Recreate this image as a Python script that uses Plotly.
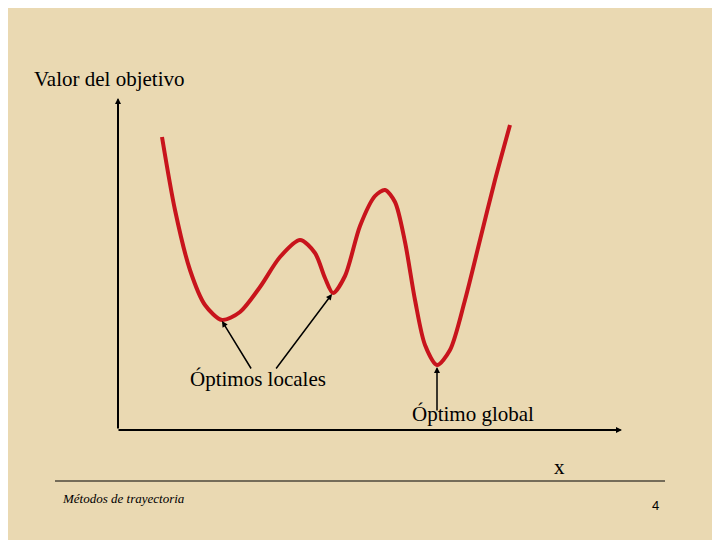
import plotly.graph_objects as go

# curve (x position, height in pixel space)
curve_x = [162, 175, 190, 205, 222, 240, 260, 280, 300, 315, 325, 333, 345, 360, 375, 385, 395, 405, 415, 425, 437, 450, 465, 480, 495, 510]
curve_y = [137, 210, 270, 305, 320, 312, 287, 257, 240, 253, 278, 293, 276, 226, 196, 190, 202, 242, 300, 345, 365, 350, 300, 240, 180, 125]

fig = go.Figure()
fig.add_trace(go.Scatter(x=curve_x, y=curve_y, mode="lines",
                         line=dict(color="#c8141c", width=4, shape="spline", smoothing=0.8),
                         hoverinfo="skip"))

font = dict(family="Liberation Serif", size=21, color="black")
# axes
fig.add_annotation(x=118, y=98, ax=118, ay=430, xref="x", yref="y", axref="x", ayref="y",
                   showarrow=True, arrowhead=2, arrowsize=0.6, arrowwidth=2, arrowcolor="black", text="")
fig.add_annotation(x=622, y=430, ax=117, ay=430, xref="x", yref="y", axref="x", ayref="y",
                   showarrow=True, arrowhead=2, arrowsize=0.6, arrowwidth=2, arrowcolor="black", text="")
# pointers
for tx, ty, fx, fy in [(222, 321, 252, 370), (332, 294, 275, 370), (437, 367, 437, 412)]:
    fig.add_annotation(x=tx, y=ty, ax=fx, ay=fy, xref="x", yref="y", axref="x", ayref="y",
                       showarrow=True, arrowhead=2, arrowsize=0.8, arrowwidth=1.5, arrowcolor="black", text="")
fig.add_shape(type="line", x0=55, x1=665, y0=481, y1=481, line=dict(color="black", width=1))

fig.add_annotation(x=32, y=79, text="Valor del objetivo", showarrow=False, xanchor="left", font=font)
fig.add_annotation(x=258, y=379, text="Óptimos locales", showarrow=False, font=font)
fig.add_annotation(x=473, y=414, text="Óptimo global", showarrow=False, font=font)
fig.add_annotation(x=559, y=467, text="x", showarrow=False, font=font)
fig.add_annotation(x=60, y=498, text="<i>Métodos de trayectoria</i>", showarrow=False, xanchor="left",
                   font=dict(family="Liberation Serif", size=13, color="black"))
fig.add_annotation(x=655, y=505, text="4", showarrow=False,
                   font=dict(family="Liberation Sans", size=13, color="black"))

# ranges shifted by the page's 8px body margin
fig.update_xaxes(range=[8, 728], visible=False)
fig.update_yaxes(range=[548, 8], visible=False)
fig.update_layout(width=720, height=540, margin=dict(l=0, r=0, t=0, b=0),
                  paper_bgcolor="#ead9b2", plot_bgcolor="#ead9b2", showlegend=False)
fig.write_html("out.html")
